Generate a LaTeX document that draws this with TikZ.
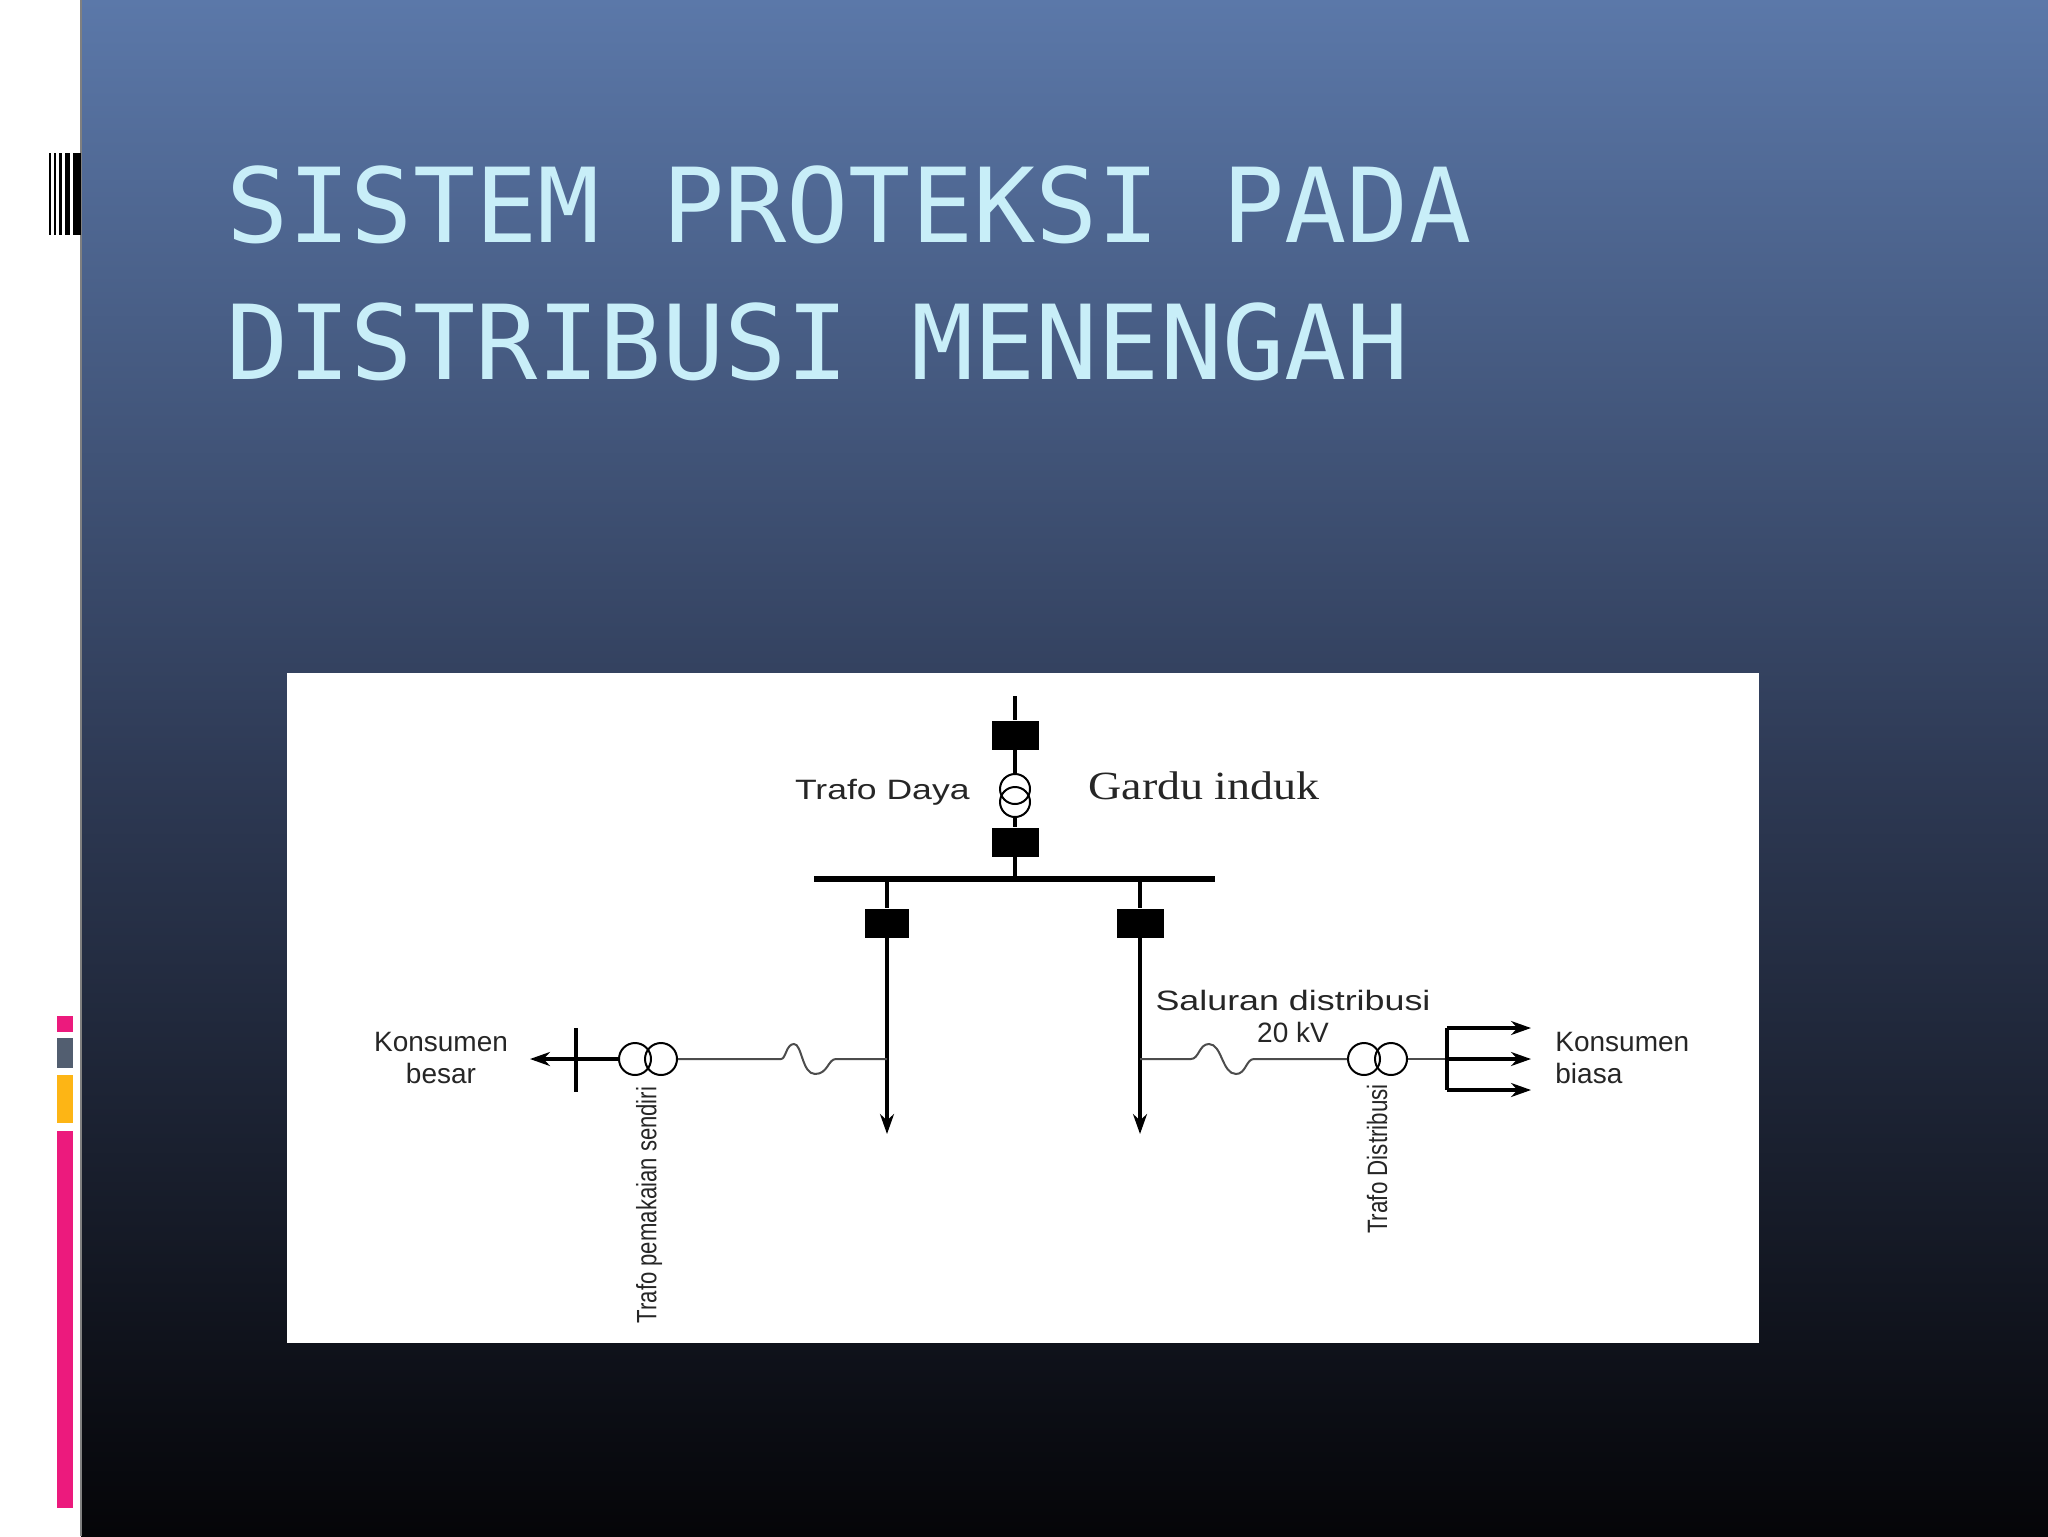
\documentclass[tikz,border=0pt]{standalone}
\usepackage{fontspec}
\setmainfont{Liberation Sans}
\newfontfamily\monof{DejaVu Sans Mono}
\newfontfamily\serf{Liberation Serif}
\usetikzlibrary{arrows.meta}
\definecolor{titlec}{HTML}{C8EEF8}
\definecolor{topc}{HTML}{5B78A9}
\definecolor{midc}{HTML}{2E3A55}
\definecolor{botc}{HTML}{050508}
\definecolor{pinkc}{HTML}{EC1A7D}
\definecolor{greyc}{HTML}{525E70}
\definecolor{goldc}{HTML}{FDB515}
\tikzset{
  brk/.style={fill=black,draw=none},
  wire/.style={draw=black,line width=1.6pt},
  thin/.style={draw=black!70,line width=1pt},
  lbl/.style={font=\fontsize{14}{16}\selectfont,text=black!85,inner sep=0pt,align=center},
  arr/.style={-{Stealth[length=10pt,width=7pt]}},
}
\begin{document}
\begin{tikzpicture}[x=0.5pt,y=-0.5pt]
\useasboundingbox (0,0) rectangle (2048,1536);
\fill[white] (0,0) rectangle (2048,1536);
\shade[top color=topc,bottom color=botc,middle color=midc] (81,0) rectangle (2048,1536);
\draw[gray,line width=1pt] (81,0) -- (81,1536);
% barcode
\foreach \a/\b in {49/51,54/56,59/62,65/70,73/81}{\fill[black] (\a,153) rectangle (\b,235);}
% color bars
\fill[pinkc] (57,1016) rectangle (73,1032);
\fill[greyc] (57,1038) rectangle (73,1068);
\fill[goldc] (57,1075) rectangle (73,1123);
\fill[pinkc] (57,1131) rectangle (73,1508);
% title
\node[anchor=base west,inner sep=0pt,text=titlec,font=\monof\fontsize{51.7}{60}\selectfont] (t1) at (226,242) {SISTEM PROTEKSI PADA};
\node[anchor=base west,inner sep=0pt,text=titlec,font=\monof\fontsize{51.7}{60}\selectfont] (t2) at (226,379) {DISTRIBUSI MENENGAH};
% white panel
\fill[white] (287,673) rectangle (1759,1343);
% main column
\coordinate (top) at (1015,696);
\node[brk,minimum width=23.5pt,minimum height=14.5pt,inner sep=0pt] (b1) at (1015,735) {};
\node[draw,circle,minimum size=15pt,inner sep=0pt,line width=1pt] (c1) at (1015,789) {};
\node[draw,circle,minimum size=15pt,inner sep=0pt,line width=1pt] (c2) at (1015,802) {};
\node[brk,minimum width=23.5pt,minimum height=14.5pt,inner sep=0pt] (b2) at (1015,842) {};
\coordinate (busL) at (814,879);
\coordinate (busR) at (1215,879);
\coordinate (busM) at (1015,879);
\draw[line width=2.6pt] (busL) -- (busR);
\draw[wire] (top) -- (b1.north);
\draw[wire] (b1.south) -- (c1.north);
\draw[wire] (c2.south) -- (b2.north);
\draw[wire] (b2.south) -- (busM);
\node[lbl,anchor=east] (td) at (970,792) {\scalebox{1.27}[1]{Trafo Daya}};
\node[anchor=west,inner sep=0pt,font=\serf\fontsize{20}{22}\selectfont,text=black!85] (gi) at (1088,786) {\scalebox{1.15}[1]{Gardu induk}};
% left feeder
\coordinate (lf) at (887,879);
\node[brk,minimum width=22pt,minimum height=14.5pt,inner sep=0pt] (b3) at (887,923) {};
\coordinate (lfe) at (887,1134);
\coordinate (lj) at (887,1059);
\draw[wire] (lf) -- (b3.north);
\draw[wire,arr] (b3.south) -- (lfe);
% right feeder
\coordinate (rf) at (1140,879);
\node[brk,minimum width=23.5pt,minimum height=14.5pt,inner sep=0pt] (b4) at (1140,923) {};
\coordinate (rfe) at (1140,1134);
\coordinate (rj) at (1140,1059);
\draw[wire] (rf) -- (b4.north);
\draw[wire,arr] (b4.south) -- (rfe);
% left branch
\node[draw,circle,minimum size=16pt,inner sep=0pt,line width=1pt] (lc1) at (635,1059) {};
\node[draw,circle,minimum size=16pt,inner sep=0pt,line width=1pt] (lc2) at (661,1059) {};
\coordinate (lfu1) at (781,1059);
\coordinate (lfu2) at (836,1059);
\draw[thin] (lj) -- (lfu2) .. controls (828,1059) and (828,1074) .. (815,1074) .. controls (802,1074) and (802,1044) .. (794,1044) .. controls (786,1044) and (786,1059) .. (lfu1) -- (lc2.east);
\coordinate (lbt) at (576,1028);
\coordinate (lbb) at (576,1092);
\coordinate (lbm) at (576,1059);
\coordinate (larr) at (530,1059);
\draw[wire] (lbt) -- (lbb);
\draw[wire] (lc1.west) -- (lbm);
\draw[wire,arr] (lbm) -- (larr);
\node[lbl] (kb) at (441,1058) {Konsumen\\besar};
\node[lbl,rotate=90] (tps) at (649,1205) {\scalebox{0.79}[1]{Trafo pemakaian sendiri}};
% right branch
\node[draw,circle,minimum size=16pt,inner sep=0pt,line width=1pt] (rc1) at (1364,1059) {};
\node[draw,circle,minimum size=16pt,inner sep=0pt,line width=1pt] (rc2) at (1391,1059) {};
\coordinate (rfu1) at (1191,1059);
\coordinate (rfu2) at (1254,1059);
\draw[thin] (rj) -- (rfu1) .. controls (1199,1059) and (1199,1044) .. (1209,1044) .. controls (1222,1044) and (1222,1074) .. (1236,1074) .. controls (1246,1074) and (1246,1059) .. (rfu2) -- (rc1.west);
\coordinate (rbt) at (1447,1028);
\coordinate (rbb) at (1447,1090);
\coordinate (rbm) at (1447,1059);
\draw[thin] (rc2.east) -- (rbm);
\draw[wire] (rbt) -- (rbb);
\coordinate (ra1) at (1531,1028);
\coordinate (ra2) at (1531,1059);
\coordinate (ra3) at (1531,1090);
\draw[wire,arr] (rbt) -- (ra1);
\draw[wire,arr] (rbm) -- (ra2);
\draw[wire,arr] (rbb) -- (ra3);
\node[lbl] (sd) at (1293,1016) {\scalebox{1.28}[1]{Saluran distribusi}\\20 kV};
\node[lbl,anchor=west,align=left] (kbi) at (1555,1058) {Konsumen\\biasa};
\node[lbl,rotate=90] (tdi) at (1377,1159) {\scalebox{0.8}[1]{Trafo Distribusi}};
\end{tikzpicture}
\end{document}
